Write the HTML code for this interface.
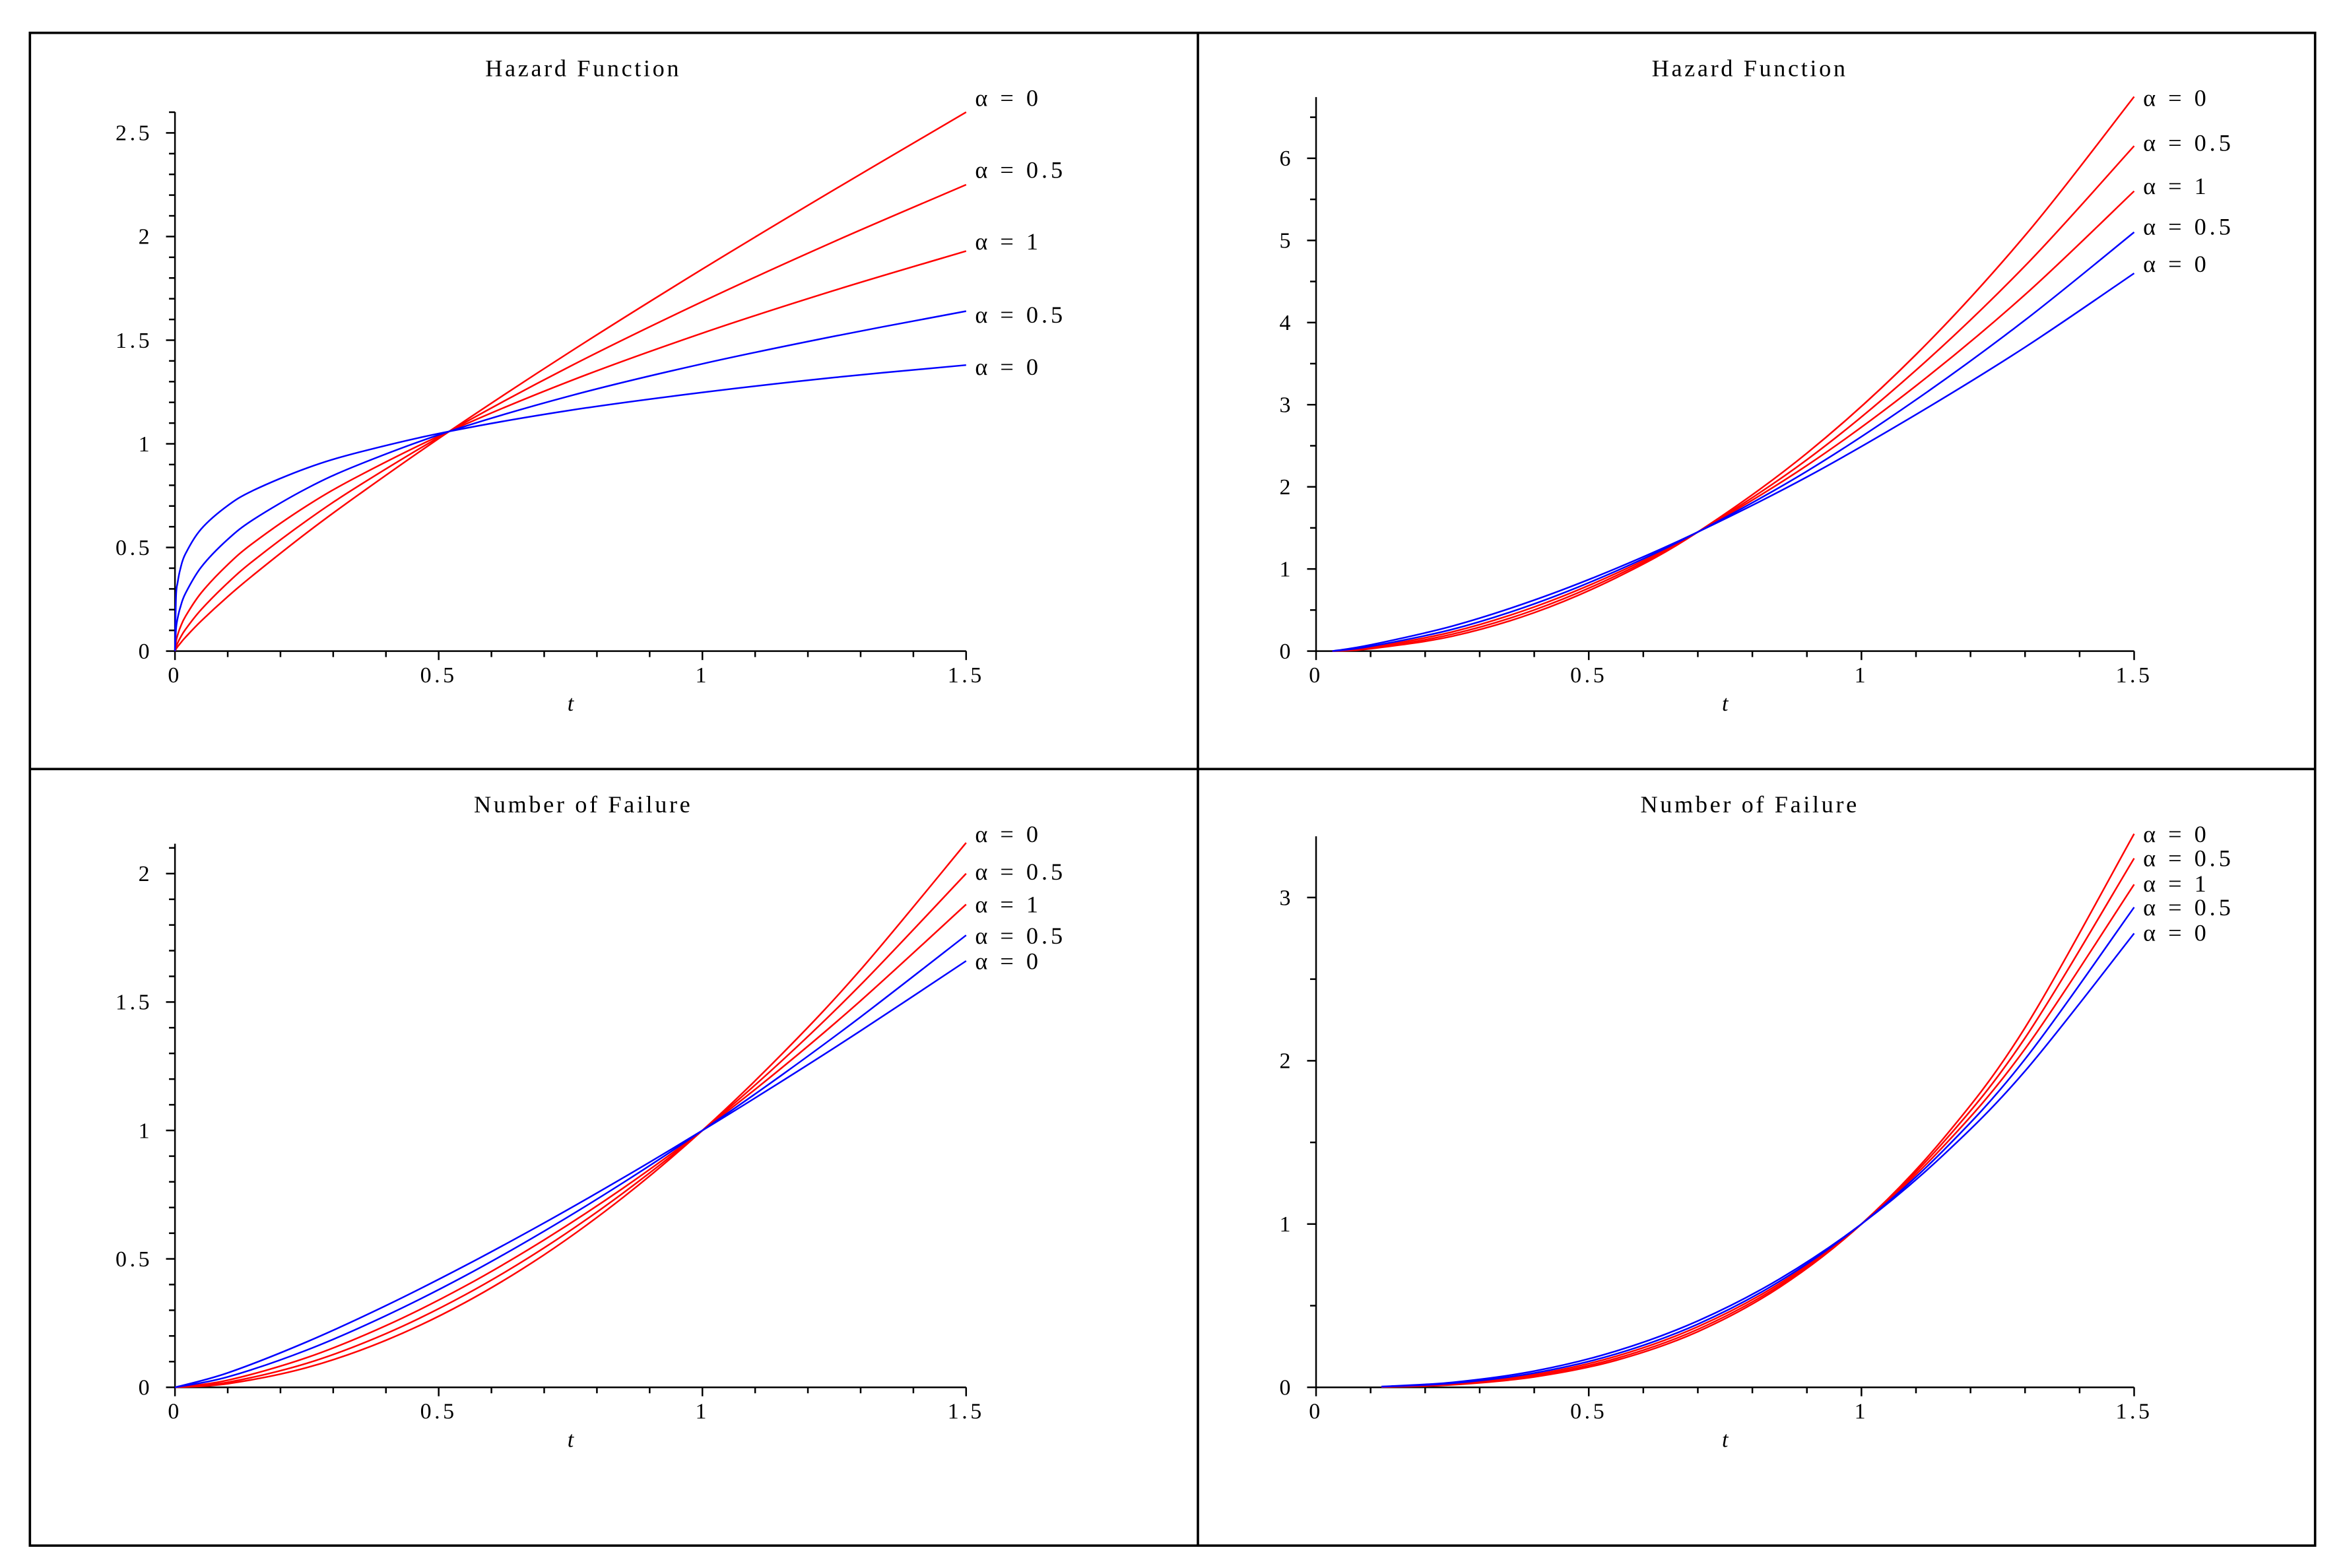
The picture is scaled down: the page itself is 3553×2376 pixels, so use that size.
<!DOCTYPE html>
<html><head><meta charset="utf-8">
<style>
html,body{margin:0;padding:0;background:#fff;}
svg{display:block;}
text{font-family:"Liberation Serif",serif;fill:#000;}
</style></head>
<body>
<svg id="chart" width="3553" height="2376" viewBox="0 0 1568 1050" preserveAspectRatio="none" xmlns="http://www.w3.org/2000/svg">
<rect x="0" y="0" width="1568" height="1050" fill="#fff"/>
<g id="frame" fill="none" stroke="#000" stroke-width="1.6">
<rect x="20" y="22" width="1528" height="1013"/>
<line x1="801" y1="22" x2="801" y2="1035"/>
<line x1="20" y1="515" x2="1548" y2="515"/>
</g>
</svg>
<script>
// ---- Data ----
const alphaLabels = ["α = 0","α = 0.5","α = 1","α = 0.5","α = 0"];
const seriesColors = ["#ff0000","#ff0000","#ff0000","#0000ff","#0000ff"];

// Panel A: Hazard Function (left)
const hazA_t = [0,0.002,0.005,0.01,0.02,0.05,0.1,0.15,0.25,0.35,0.52,0.75,1.0,1.25,1.5];
const hazA_s1 = [0,0.010,0.021,0.037,0.067,0.146,0.263,0.370,0.571,0.758,1.06,1.445,1.843,2.226,2.60];
const hazA_s2 = [0,0.020,0.039,0.064,0.105,0.201,0.329,0.439,0.630,0.800,1.06,1.375,1.686,1.976,2.25];
const hazA_s3 = [0,0.046,0.077,0.114,0.168,0.282,0.417,0.525,0.701,0.847,1.06,1.304,1.534,1.740,1.93];
const hazA_s4 = [0,0.108,0.158,0.210,0.279,0.406,0.539,0.637,0.785,0.901,1.06,1.232,1.386,1.519,1.64];
const hazA_s5 = [0,0.264,0.330,0.395,0.470,0.590,0.702,0.777,0.883,0.960,1.06,1.162,1.248,1.320,1.38];
const hazA_yTicks = ["0","0.5","1","1.5","2","2.5"];

// Panel B: Hazard Function (right)
const hazB_t = [0.03,0.1,0.25,0.4,0.55,0.7,0.9,1.1,1.3,1.5];
const hazB_s1 = [0,0.029,0.181,0.468,0.892,1.45,2.41,3.61,5.06,6.75];
const hazB_s2 = [0,0.036,0.206,0.501,0.918,1.45,2.33,3.42,4.69,6.15];
const hazB_s3 = [0,0.046,0.234,0.537,0.946,1.45,2.26,3.23,4.34,5.60];
const hazB_s4 = [0,0.058,0.265,0.575,0.974,1.45,2.19,3.06,4.03,5.10];
const hazB_s5 = [0,0.076,0.305,0.621,1.006,1.45,2.12,2.88,3.70,4.60];
const hazB_yTicks = ["0","1","2","3","4","5","6"];

// Panel C: Number of Failure (left)
const nfC_t = [0,0.1,0.25,0.4,0.55,0.7,0.85,1.0,1.15,1.3,1.5];
const nfC_s1 = [0,0.014,0.0767,0.183,0.330,0.516,0.740,1,1.296,1.626,2.12];
const nfC_s2 = [0,0.0195,0.0935,0.209,0.360,0.543,0.757,1,1.270,1.567,2.00];
const nfC_s3 = [0,0.0277,0.1156,0.240,0.394,0.574,0.776,1,1.243,1.505,1.88];
const nfC_s4 = [0,0.0404,0.145,0.279,0.434,0.608,0.797,1,1.215,1.442,1.76];
const nfC_s5 = [0,0.0562,0.177,0.318,0.4735,0.640,0.816,1,1.191,1.388,1.66];
const nfC_yTicks = ["0","0.5","1","1.5","2"];

// Panel D: Number of Failure (right)
const nfD_t = [0.12,0.25,0.4,0.55,0.7,0.85,1.0,1.15,1.3,1.5];
const nfD_s1 = [0.0017,0.0154,0.0635,0.165,0.341,0.613,1,1.523,2.203,3.39];
const nfD_s2 = [0.0021,0.018,0.0702,0.1766,0.355,0.624,1,1.500,2.140,3.24];
const nfD_s3 = [0.0028,0.0212,0.0784,0.190,0.371,0.636,1,1.475,2.073,3.08];
const nfD_s4 = [0.0036,0.025,0.0874,0.204,0.387,0.649,1,1.450,2.010,2.94];
const nfD_s5 = [0.0048,0.0304,0.0994,0.2216,0.4066,0.664,1,1.422,1.937,2.78];
const nfD_yTicks = ["0","1","2","3"];

const xTicks = ["0","0.5","1","1.5"];

// ---- Rendering ----
const NS = "http://www.w3.org/2000/svg";
const svg = document.getElementById("chart");
function mk(tag, attrs, parent){
  const e = document.createElementNS(NS, tag);
  for (const k in attrs) e.setAttribute(k, attrs[k]);
  (parent||svg).appendChild(e);
  return e;
}
function smoothPath(pts){
  let d = "M" + pts[0][0].toFixed(2) + "," + pts[0][1].toFixed(2);
  for (let i=0;i<pts.length-1;i++){
    const p0 = pts[i-1]||pts[i], p1=pts[i], p2=pts[i+1], p3=pts[i+2]||pts[i+1];
    const c1x = p1[0]+(p2[0]-p0[0])/6, c1y = p1[1]+(p2[1]-p0[1])/6;
    const c2x = p2[0]-(p3[0]-p1[0])/6, c2y = p2[1]-(p3[1]-p1[1])/6;
    d += " C"+c1x.toFixed(2)+","+c1y.toFixed(2)+" "+c2x.toFixed(2)+","+c2y.toFixed(2)+" "+p2[0].toFixed(2)+","+p2[1].toFixed(2);
  }
  return d;
}

const panels = [
  {key:"hazard-left", title:"Hazard Function", x0:117, x1:646, y0:436, yTop:75, ymax:2.5, yPix:89, tx:390, ty:51,
   yMajor:0.5, yMinor:0.1, t:hazA_t, series:[hazA_s1,hazA_s2,hazA_s3,hazA_s4,hazA_s5], yTicks:hazA_yTicks,
   labY:[66,114,162,211,246]},
  {key:"hazard-right", title:"Hazard Function", x0:880, x1:1427, y0:436, yTop:65, ymax:6, yPix:106, tx:1170, ty:51,
   yMajor:1, yMinor:0.5, t:hazB_t, series:[hazB_s1,hazB_s2,hazB_s3,hazB_s4,hazB_s5], yTicks:hazB_yTicks,
   labY:[66,96,125,152,177]},
  {key:"failures-left", title:"Number of Failure", x0:117, x1:646, y0:929, yTop:565, ymax:2, yPix:585, tx:390, ty:544,
   yMajor:0.5, yMinor:0.1, t:nfC_t, series:[nfC_s1,nfC_s2,nfC_s3,nfC_s4,nfC_s5], yTicks:nfC_yTicks,
   labY:[559,584,606,627,644]},
  {key:"failures-right", title:"Number of Failure", x0:880, x1:1427, y0:929, yTop:560, ymax:3, yPix:601, tx:1170, ty:544,
   yMajor:1, yMinor:0.5, t:nfD_t, series:[nfD_s1,nfD_s2,nfD_s3,nfD_s4,nfD_s5], yTicks:nfD_yTicks,
   labY:[559,575,592,608,625]}
];

panels.forEach(p=>{
  const g = mk("g",{});
  
  
  const X = v => p.x0 + (p.x1-p.x0)*v/1.5;
  const Y = v => p.y0 - (p.y0-p.yPix)*v/p.ymax;

  const title = mk("text",{x:p.tx,y:p.ty,"text-anchor":"middle","font-size":"16","letter-spacing":"1.6"},g);
  title.textContent = p.title;
  
  

  const axes = mk("g",{stroke:"#000","stroke-width":"1.1",fill:"none"},g);
  
  
  mk("line",{x1:p.x0,y1:p.y0,x2:p.x1,y2:p.y0},axes);
  mk("line",{x1:p.x0,y1:p.y0,x2:p.x0,y2:p.yTop},axes);
  for (let i=0;i<=15;i++){
    const v=i/10, big = (i%5===0);
    mk("line",{x1:X(v),y1:p.y0,x2:X(v),y2:p.y0+(big?6:4)},axes);
  }
  xTicks.forEach((lab,i)=>{
    const t = mk("text",{x:X(i*0.5),y:p.y0+21,"text-anchor":"middle","font-size":"15","letter-spacing":"2"},g);
    t.textContent = lab;
    
    
  });
  const xt = mk("text",{x:(X(0)+X(1.5))/2,y:p.y0+40,"text-anchor":"middle","font-size":"15","font-style":"italic"},g);
  xt.textContent = "t";
  
  
  const topVal = (p.y0-p.yTop)/(p.y0-p.yPix)*p.ymax;
  const nMinor = Math.floor(topVal/p.yMinor+1e-6);
  const ratio = Math.round(p.yMajor/p.yMinor);
  for (let i=0;i<=nMinor;i++){
    const v=i*p.yMinor, big=(i%ratio===0);
    mk("line",{x1:p.x0,y1:Y(v),x2:p.x0-(big?6:4),y2:Y(v)},axes);
  }
  p.yTicks.forEach((lab,i)=>{
    const t = mk("text",{x:p.x0-15,y:Y(i*p.yMajor)+5,"text-anchor":"end","font-size":"15","letter-spacing":"2"},g);
    t.textContent = lab;
    
    
  });
  p.series.forEach((s,si)=>{
    const pts = p.t.map((tv,i)=>[X(tv),Y(s[i])]);
    const path = mk("path",{d:smoothPath(pts),fill:"none",stroke:seriesColors[si],"stroke-width":"1.1"},g);
    
    
    const lab = mk("text",{x:p.x1+6,y:p.labY[si]+5,"font-size":"16","letter-spacing":"2.2"},g);
    lab.textContent = alphaLabels[si];
    
    
  });
});
</script>
</body></html>
